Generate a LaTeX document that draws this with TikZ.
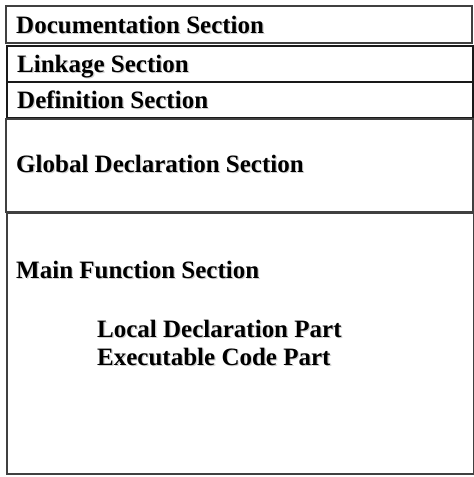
\documentclass[tikz,border=0pt]{standalone}
\usepackage{fontspec}
\setmainfont{Liberation Serif}
\begin{document}
\begin{tikzpicture}[x=1pt,y=-1pt,
  secbox/.style={draw=black!75,line width=1.6pt,fill=white},
  darkbox/.style={draw=black!90,line width=1.8pt,fill=white},
  boxshadow/.style={fill=black!35,draw=none},
  lbl/.style={anchor=base west,inner sep=0pt,font=\fontsize{25}{29}\selectfont\bfseries,text=black},
  lblshadow/.style={lbl,text=black!18}]
\useasboundingbox (0,0) rectangle (474,477);
% shadows of boxes
\fill[boxshadow] (7,7) rectangle (473,44);
\fill[boxshadow] (8,47) rectangle (474,119);
\fill[boxshadow] (7,120) rectangle (474,213);
\fill[boxshadow] (8,214) rectangle (474,475);
% boxes
\node[secbox,minimum width=466pt,minimum height=37pt,anchor=north west,inner sep=0pt] (doc) at (5,5) {};
\node[darkbox,minimum width=466pt,minimum height=36pt,anchor=north west,inner sep=0pt] (link) at (6,45) {};
\node[darkbox,minimum width=466pt,minimum height=36pt,anchor=north west,inner sep=0pt] (def) at (6,81) {};
\node[secbox,minimum width=467pt,minimum height=93pt,anchor=north west,inner sep=0pt] (glob) at (5,118) {};
\node[secbox,minimum width=467pt,minimum height=261pt,anchor=north west,inner sep=0pt] (main) at (6,212) {};
% text shadows
\node[lblshadow] (s1) at (17.2,34.2) {Documentation Section};
\node[lblshadow] (s2) at (18.2,73.2) {Linkage Section};
\node[lblshadow] (s3) at (18.2,109.2) {Definition Section};
\node[lblshadow] (s4) at (17.2,173.7) {Global Declaration Section};
\node[lblshadow] (s5) at (17.2,279.2) {Main Function Section};
\node[lblshadow] (s6) at (98.2,338.2) {Local Declaration Part};
\node[lblshadow] (s7) at (98.2,366.2) {Executable Code Part};
% text
\node[lbl] (t1) at (16,33) {Documentation Section};
\node[lbl] (t2) at (17,72) {Linkage Section};
\node[lbl] (t3) at (17,108) {Definition Section};
\node[lbl] (t4) at (16,172.5) {Global Declaration Section};
\node[lbl] (t5) at (16,278) {Main Function Section};
\node[lbl] (t6) at (97,337) {Local Declaration Part};
\node[lbl] (t7) at (97,365) {Executable Code Part};
\end{tikzpicture}
\end{document}
